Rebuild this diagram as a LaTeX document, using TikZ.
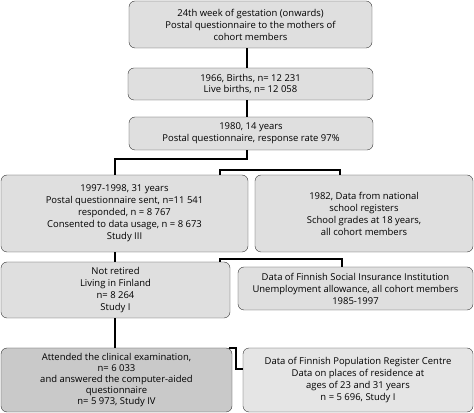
\documentclass[tikz,border=0pt]{standalone}
\usepackage{fontspec}
\setmainfont{Open Sans}
\usepackage{tikz}
\usetikzlibrary{arrows,shapes}

\begin{document}
\begin{tikzpicture}[>=latex]
      \tikzstyle{every node}=[font=\fontsize{9.5}{12}\selectfont]
      \tikzstyle{box}=[draw=black!80,fill=gray!25,rounded corners=6bp,inner sep=0pt,align=center]
      \tikzstyle{conn}=[draw=black,line width=1.8bp]
      \useasboundingbox (0bp,0bp) rectangle (474bp,413bp);
      %%
  \node (b1) at (250.5bp,388.5bp) [box,minimum width=243bp,minimum height=47bp] {24th week of gestation (onwards)\\Postal questionnaire to the mothers of\\cohort members};
  \node (b2) at (250.5bp,329bp) [box,minimum width=245bp,minimum height=32bp] {1966, Births, n= 12 231\\Live births, n= 12 058};
  \node (b3) at (251bp,279.5bp) [box,minimum width=244bp,minimum height=33bp] {1980, 14 years\\Postal questionnaire, response rate 97\%};
  \node (b4) at (124.5bp,199.5bp) [box,minimum width=247bp,minimum height=77bp] {1997-1998, 31 years\\Postal questionnaire sent, n=11 541\\responded, n = 8 767\\Consented to data usage, n = 8 673\\Study III};
  \node (b5) at (364bp,199.5bp) [box,minimum width=218bp,minimum height=77bp] {1982, Data from national\\school registers\\School grades at 18 years,\\all cohort members};
  \node (b6) at (115.5bp,123bp) [box,minimum width=229bp,minimum height=56bp] {Not retired\\Living in Finland\\n= 8 264\\Study I};
  \node (b7) at (355.5bp,124.5bp) [box,minimum width=235bp,minimum height=43bp] {Data of Finnish Social Insurance Institution\\Unemployment allowance, all cohort members\\1985-1997};
  \node (b8) at (116.5bp,33bp) [box,fill=gray!42,minimum width=231bp,minimum height=64bp,font=\fontsize{9.5}{11}\selectfont] {Attended the clinical examination,\\n= 6 033\\and answered the computer-aided\\questionnaire\\n= 5 973, Study IV};
  \node (b9) at (358bp,33bp) [box,fill=gray!20,minimum width=230bp,minimum height=64bp] {Data of Finnish Population Register Centre\\Data on places of residence at\\ages of 23 and 31 years\\n = 5 696, Study I};
  \coordinate (c1) at (247bp,0bp);
  \coordinate (c2) at (115bp,0bp);
  \coordinate (k1) at (220bp,0bp);
  \coordinate (k2) at (340bp,0bp);
  \coordinate (k3) at (342bp,0bp);
  \coordinate (k4) at (229bp,0bp);
  \draw [conn] (b1.south -| c1) -- (b2.north -| c1);
  \draw [conn] (b2.south -| c1) -- (b3.north -| c1);
  \draw [conn] (b3.south -| c1) -- ++(0,-9bp) -| (b4.north -| c2);
  \draw [conn] (b4.north -| k1) -- ++(0,5bp) -| (b5.north -| k2);
  \draw [conn] (b4.south -| c2) -- (b6.north -| c2);
  \draw [conn] (b6.north -| k1) -- ++(0,3bp) -| (b7.north -| k3);
  \draw [conn] (b6.south -| c2) -- (b8.north -| c2);
  \draw [conn] (b8.north -| k4) -- ++(7bp,0) |- ([yshift=11bp]b9.west);
%
\end{tikzpicture}
\end{document}
